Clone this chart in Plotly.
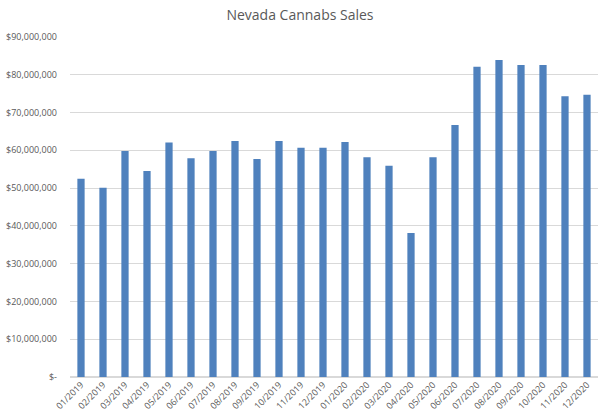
import plotly.graph_objects as go

months = ["01/2019", "02/2019", "03/2019", "04/2019", "05/2019", "06/2019",
          "07/2019", "08/2019", "09/2019", "10/2019", "11/2019", "12/2019",
          "01/2020", "02/2020", "03/2020", "04/2020", "05/2020", "06/2020",
          "07/2020", "08/2020", "09/2020", "10/2020", "11/2020", "12/2020"]
sales = [52.5e6, 50.1e6, 59.8e6, 54.5e6, 62.1e6, 57.9e6,
         59.8e6, 62.5e6, 57.7e6, 62.5e6, 60.7e6, 60.7e6,
         62.2e6, 58.2e6, 55.9e6, 38.1e6, 58.2e6, 66.7e6,
         82.1e6, 83.9e6, 82.6e6, 82.6e6, 74.3e6, 74.7e6]
ytick_vals = [0, 10e6, 20e6, 30e6, 40e6, 50e6, 60e6, 70e6, 80e6, 90e6]
ytick_text = ["$-", "$10,000,000", "$20,000,000", "$30,000,000", "$40,000,000",
              "$50,000,000", "$60,000,000", "$70,000,000", "$80,000,000", "$90,000,000"]

fig = go.Figure(go.Bar(x=months, y=sales, marker_color="#4F81BD",
                       marker_line_width=0, width=0.33))
fig.update_layout(
    width=600, height=420,
    margin=dict(l=70, r=2, t=37, b=43, autoexpand=False),
    paper_bgcolor="white", plot_bgcolor="white",
    font=dict(family="Open Sans", color="#595959", size=9),
    title=dict(text="Nevada Cannabs Sales", x=0.5, xanchor="center",
               y=0.965, yanchor="middle", font=dict(size=14, color="#595959")),
    showlegend=False,
)
fig.update_yaxes(range=[0, 90e6], tickvals=ytick_vals, ticktext=ytick_text,
                 showgrid=True, gridcolor="#D9D9D9", gridwidth=1,
                 zeroline=True, zerolinecolor="#D9D9D9", ticks="",
                 ticklabelstandoff=12, automargin=False,
                 tickfont=dict(size=9, color="#595959"))
fig.update_xaxes(tickangle=-45, ticks="", showline=False, automargin=False,
                 tickfont=dict(size=9, color="#595959"))
fig.write_html("out.html", config={"displayModeBar": False},
               post_script="document.body.style.margin='0';document.body.style.padding='0';")
